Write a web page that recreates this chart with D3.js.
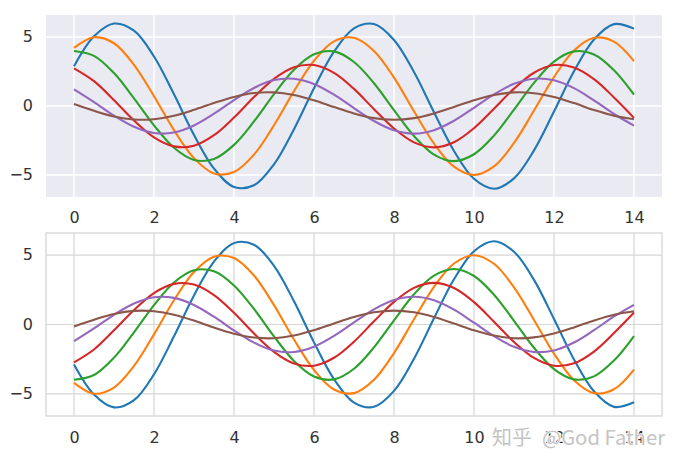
<!DOCTYPE html>
<html>
<head>
<meta charset="utf-8">
<script src="https://cdn.jsdelivr.net/npm/d3@7"></script>
<style>
html,body{margin:0;padding:0;background:#fff;}
svg{display:block;}
</style>
</head>
<body>
<svg id="chart" width="681" height="467"></svg>
<script>
const xValues = [0,0.5,1,1.5,2,2.5,3,3.5,4,4.5,5,5.5,6,6.5,7,7.5,8,8.5,9,9.5,10,10.5,11,11.5,12,12.5,13,13.5,14];
const xTicks = [0,2,4,6,8,10,12,14];
const yTicks = [-5,0,5];
const colors = ["#1f77b4","#ff7f0e","#2ca02c","#d62728","#9467bd","#8c564b"];

// top panel series (darkgrid)
const top1 = [2.88,5.05,5.98,5.46,3.59,0.85,-2.10,-4.54,-5.87,-5.75,-4.23,-1.68,1.29,3.94,5.63,5.94,4.79,2.47,-0.45,-3.26,-5.28,-6.00,-5.25,-3.22,-0.40,2.52,4.82,5.94,5.61];
const top2 = [4.21,4.99,4.55,2.99,0.71,-1.75,-3.78,-4.89,-4.79,-3.53,-1.40,1.08,3.28,4.69,4.95,3.99,2.06,-0.38,-2.72,-4.40,-5.00,-4.38,-2.68,-0.33,2.10,4.02,4.95,4.67,3.25];
const top3 = [3.99,3.64,2.39,0.56,-1.40,-3.03,-3.91,-3.84,-2.82,-1.12,0.86,2.63,3.75,3.96,3.19,1.65,-0.30,-2.18,-3.52,-4.00,-3.50,-2.15,-0.27,1.68,3.22,3.96,3.74,2.60,0.83];
const top4 = [2.73,1.80,0.42,-1.05,-2.27,-2.93,-2.88,-2.12,-0.84,0.65,1.97,2.81,2.97,2.40,1.24,-0.23,-1.63,-2.64,-3.00,-2.63,-1.61,-0.20,1.26,2.41,2.97,2.80,1.95,0.62,-0.86];
const top5 = [1.20,0.28,-0.70,-1.51,-1.96,-1.92,-1.41,-0.56,0.43,1.31,1.88,1.98,1.60,0.82,-0.15,-1.09,-1.76,-2.00,-1.75,-1.07,-0.13,0.84,1.61,1.98,1.87,1.30,0.41,-0.58,-1.42];
const top6 = [0.14,-0.35,-0.76,-0.98,-0.96,-0.71,-0.28,0.22,0.66,0.94,0.99,0.80,0.41,-0.08,-0.54,-0.88,-1.00,-0.88,-0.54,-0.07,0.42,0.80,0.99,0.93,0.65,0.21,-0.29,-0.71,-0.96];

// bottom panel series (whitegrid)
const bot1 = [-2.88,-5.05,-5.98,-5.46,-3.59,-0.85,2.10,4.54,5.87,5.75,4.23,1.68,-1.29,-3.94,-5.63,-5.94,-4.79,-2.47,0.45,3.26,5.28,6.00,5.25,3.22,0.40,-2.52,-4.82,-5.94,-5.61];
const bot2 = [-4.21,-4.99,-4.55,-2.99,-0.71,1.75,3.78,4.89,4.79,3.53,1.40,-1.08,-3.28,-4.69,-4.95,-3.99,-2.06,0.38,2.72,4.40,5.00,4.38,2.68,0.33,-2.10,-4.02,-4.95,-4.67,-3.25];
const bot3 = [-3.99,-3.64,-2.39,-0.56,1.40,3.03,3.91,3.84,2.82,1.12,-0.86,-2.63,-3.75,-3.96,-3.19,-1.65,0.30,2.18,3.52,4.00,3.50,2.15,0.27,-1.68,-3.22,-3.96,-3.74,-2.60,-0.83];
const bot4 = [-2.73,-1.80,-0.42,1.05,2.27,2.93,2.88,2.12,0.84,-0.65,-1.97,-2.81,-2.97,-2.40,-1.24,0.23,1.63,2.64,3.00,2.63,1.61,0.20,-1.26,-2.41,-2.97,-2.80,-1.95,-0.62,0.86];
const bot5 = [-1.20,-0.28,0.70,1.51,1.96,1.92,1.41,0.56,-0.43,-1.31,-1.88,-1.98,-1.60,-0.82,0.15,1.09,1.76,2.00,1.75,1.07,0.13,-0.84,-1.61,-1.98,-1.87,-1.30,-0.41,0.58,1.42];
const bot6 = [-0.14,0.35,0.76,0.98,0.96,0.71,0.28,-0.22,-0.66,-0.94,-0.99,-0.80,-0.41,0.08,0.54,0.88,1.00,0.88,0.54,0.07,-0.42,-0.80,-0.99,-0.93,-0.65,-0.21,0.29,0.71,0.96];

const topSeries = [top1, top2, top3, top4, top5, top6];
const botSeries = [bot1, bot2, bot3, bot4, bot5, bot6];

const svg = d3.select("#chart");
const fmt = d => (d < 0 ? "\u2212" + Math.abs(d) : String(d));

function panel(series, box, style) {
  const x = d3.scaleLinear().domain([-0.7, 14.7]).range([box.left, box.right]);
  const y = d3.scaleLinear().domain([-6.6, 6.6]).range([box.bottom, box.top]);
  const g = svg.append("g");
  const dark = style === "dark";
  g.append("rect")
    .attr("x", box.left).attr("y", box.top)
    .attr("width", box.right - box.left).attr("height", box.bottom - box.top)
    .attr("fill", dark ? "#EAEAF2" : "#ffffff");
  const gridColor = dark ? "#ffffff" : "#d6d6d6";
  const gw = dark ? 1.4 : 1.2;
  g.selectAll(".vg").data(xTicks).join("line")
    .attr("x1", d => x(d)).attr("x2", d => x(d))
    .attr("y1", box.top).attr("y2", box.bottom)
    .attr("stroke", gridColor).attr("stroke-width", gw);
  g.selectAll(".hg").data(yTicks).join("line")
    .attr("y1", d => y(d)).attr("y2", d => y(d))
    .attr("x1", box.left).attr("x2", box.right)
    .attr("stroke", gridColor).attr("stroke-width", gw);
  if (!dark) {
    g.append("rect")
      .attr("x", box.left).attr("y", box.top)
      .attr("width", box.right - box.left).attr("height", box.bottom - box.top)
      .attr("fill", "none").attr("stroke", "#d6d6d6").attr("stroke-width", 1.3);
  }
  const line = d3.line().x((d, i) => x(xValues[i])).y(d => y(d)).curve(d3.curveCatmullRom.alpha(0.5));
  series.forEach((s, i) => {
    g.append("path").attr("d", line(s))
      .attr("fill", "none").attr("stroke", colors[i])
      .attr("stroke-width", 2.1).attr("stroke-linejoin", "round").attr("stroke-linecap", "butt");
  });
  const xa = d3.axisBottom(x).tickValues(xTicks).tickSize(0).tickPadding(0).tickFormat(fmt);
  const xg = g.append("g").attr("transform", `translate(0,${box.bottom})`).call(xa);
  xg.select(".domain").remove();
  xg.selectAll("text").attr("dy", null).attr("y", box.xLabelY - box.bottom).attr("dominant-baseline", "middle");
  const ya = d3.axisLeft(y).tickValues(yTicks).tickSize(0).tickPadding(0).tickFormat(fmt);
  const yg = g.append("g").attr("transform", `translate(${box.left},0)`).call(ya);
  yg.select(".domain").remove();
  yg.selectAll("text").attr("x", 33 - box.left).attr("dy", null).attr("dominant-baseline", "middle");
  g.selectAll(".tick text")
    .attr("font-family", "'DejaVu Sans', sans-serif")
    .attr("font-size", 16).attr("fill", "#333333");
}

panel(topSeries, {left: 46, right: 662, top: 15, bottom: 197, xLabelY: 218}, "dark");
panel(botSeries, {left: 46, right: 662, top: 233, bottom: 416, xLabelY: 438}, "white");

const wm = svg.append("text")
  .attr("y", 440)
  .attr("dominant-baseline", "middle")
  .attr("font-family", "'Noto Sans CJK SC', 'DejaVu Sans', sans-serif")
  .attr("font-size", 20)
  .attr("fill", "#c4c4c4")
  .attr("stroke", "#ffffff").attr("stroke-width", 1.6).attr("paint-order", "stroke");
wm.append("tspan").attr("x", 492).text("知乎");
wm.append("tspan").attr("x", 542).attr("textLength", 123).attr("lengthAdjust", "spacingAndGlyphs").text("@God Father");
</script>
</body>
</html>
